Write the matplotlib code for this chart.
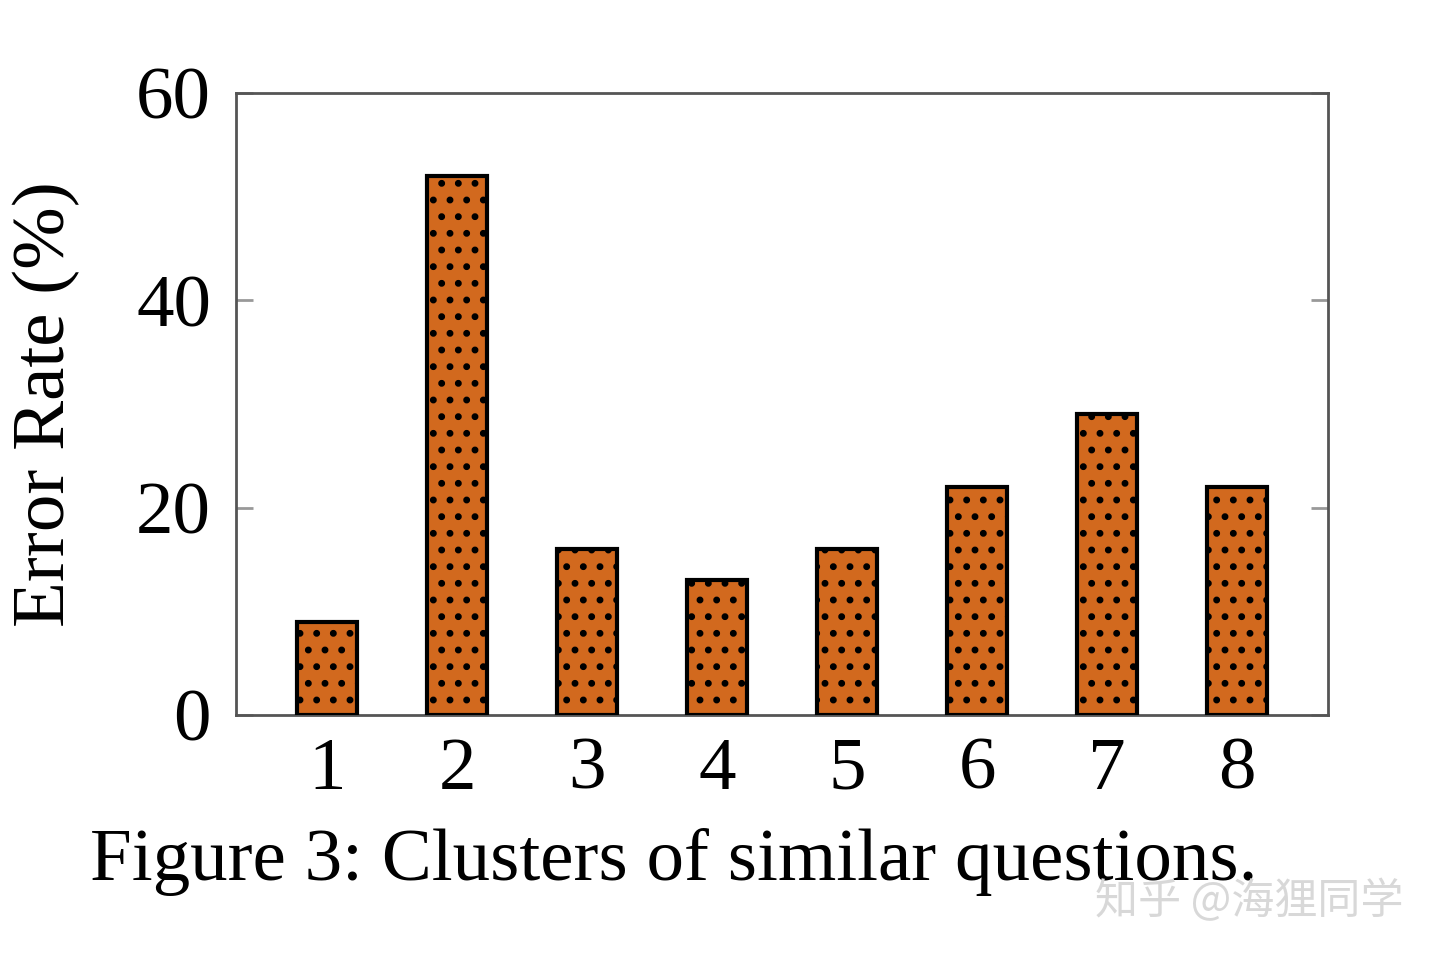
import matplotlib
matplotlib.use("Agg")
import matplotlib.pyplot as plt

clusters = ["1", "2", "3", "4", "5", "6", "7", "8"]
error_rate = [9, 52, 16, 13, 16, 22, 29, 22]
yticks = [0, 20, 40, 60]

plt.rcParams['font.family'] = ['Liberation Serif', 'DejaVu Serif']
plt.rcParams['hatch.color'] = 'black'
plt.rcParams['hatch.linewidth'] = 2.5

fig = plt.figure(figsize=(14.4, 9.59), dpi=100)
ax = fig.add_axes([236/1440, 1-715/959, (1328-236)/1440, (715-93)/959])

x = list(range(1, len(clusters)+1))
ax.bar(x, error_rate, width=0.46, color='#D2691E', edgecolor='black', linewidth=3, hatch='.', zorder=3)

ax.set_xlim(0.3, 8.7)
ax.set_ylim(0, 60)
ax.set_xticks(x)
ax.set_xticklabels(clusters)
ax.set_yticks(yticks)
ax.tick_params(axis='both', labelsize=54, direction='in', color='#999999', width=2, length=12)
ax.tick_params(axis='y', right=True)
ax.tick_params(axis='x', bottom=False, pad=16)
ax.tick_params(axis='y', pad=18)
for s in ax.spines.values():
    s.set_color('#555555')
    s.set_linewidth(2)
ax.set_ylabel('Error Rate (%)', fontsize=54, labelpad=40)

fig.text(90/1440, 1-862/959, 'Figure 3: Clusters of similar questions.', fontsize=54, va='center', ha='left')
fig.text(1095/1440, 1-902/959, '知乎 @海狸同学', fontsize=31, va='center', ha='left',
         color='#d8d8d8', family=['Noto Sans CJK SC', 'DejaVu Sans'])

fig.savefig('out.png', dpi=100)
